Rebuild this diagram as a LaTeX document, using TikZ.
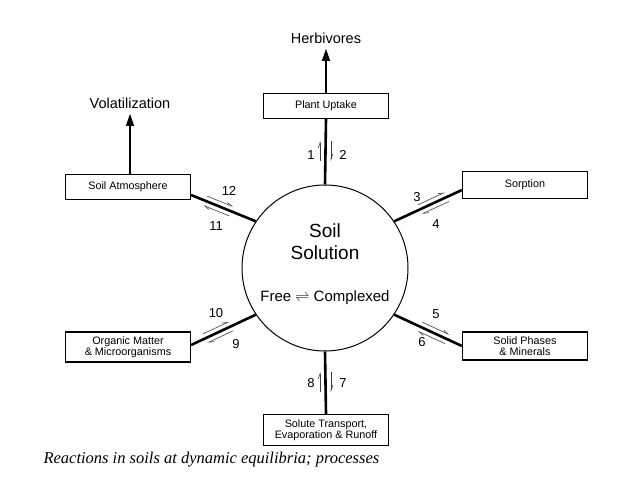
\documentclass[tikz,border=0pt]{standalone}
\usepackage{fontspec}
\setmainfont{Liberation Sans}
\newfontfamily\capfont{Liberation Serif}
\usetikzlibrary{arrows.meta,calc}
\begin{document}
\begin{tikzpicture}[x=1pt,y=-1pt,
 box/.style={draw,line width=1.2pt,minimum width=125pt,inner sep=1pt,font=\fontsize{10.8}{11.5}\selectfont,align=center},
 conn/.style={line width=2.6pt},
 up/.style={line width=1.4pt,-{Triangle[length=12pt,width=8pt]}},
 hp/.style={line width=0.6pt,black!75,-{Straight Barb[harpoon,length=5pt,width=3.5pt]}},
 num/.style={font=\fontsize{13}{14}\selectfont}]
\useasboundingbox (0,0) rectangle (638,478);
\node[draw,circle,line width=1pt,minimum size=166pt] (c) at (325,268) {};
\node[font=\fontsize{19}{22}\selectfont,align=center] (t) at (325,242) {Soil\\Solution};
\node[font=\fontsize{15}{16}\selectfont] (fc) at (325,298) {Free $\rightleftharpoons$ Complexed};
\node[box,minimum height=25pt] (pu) at (326,106) {Plant Uptake};
\node[box,minimum height=25pt] (sa) at (128,187) {Soil Atmosphere};
\node[box,minimum height=27pt] (so) at (525,185) {Sorption};
\node[box,minimum height=28pt] (sp) at (525,346) {Solid Phases\\ \& Minerals};
\node[box,minimum height=30pt] (om) at (128,347) {Organic Matter\\ \& Microorganisms};
\node[box,minimum height=31pt] (st) at (326,430) {Solute Transport,\\Evaporation \& Runoff};
\node[font=\fontsize{14.5}{15}\selectfont] (hb) at (326,38) {Herbivores};
\node[font=\fontsize{14.5}{15}\selectfont] (vo) at (130,103) {Volatilization};
\draw[up] (pu.north) -- ($(hb.south)+(0,2)$);
\draw[up] (130,174.5) -- ($(vo.south)+(0,2)$);
\draw[conn] (pu.south) -- (c.90);
\draw[conn] (st.north) -- (c.270);
\draw[conn] (sa.east |- 0,195) coordinate (a1) -- (c.146) coordinate (b1);
\draw[conn] (so.west |- 0,190) coordinate (a2) -- (c.34) coordinate (b2);
\draw[conn] (sp.west |- 0,346) coordinate (a3) -- (c.326) coordinate (b3);
\draw[conn] (om.east |- 0,345) coordinate (a4) -- (c.214) coordinate (b4);
% vertical harpoons
\draw[hp] (320,161) -- (320,141);
\draw[hp] (331,141) -- (331,161);
\node[num] (n1) at (311,155) {1};
\node[num] (n2) at (343,155) {2};
\draw[hp] (320,392) -- (320,372);
\draw[hp] (331,372) -- (331,392);
\node[num] (n8) at (311,383) {8};
\node[num] (n7) at (343,383) {7};
% slanted harpoons
\foreach \a/\b in {a1/b1, a2/b2, a3/b3, a4/b4}{
  \coordinate (p) at ($(\a)!0.22!(\b)$);
  \coordinate (q) at ($(\a)!0.62!(\b)$);
  \draw[hp] ($(p)!5pt!90:(q)$) -- ($(q)!5pt!-90:(p)$);
  \draw[hp] ($(q)!5pt!90:(p)$) -- ($(p)!5pt!-90:(q)$);
}
\node[num] (n12) at (229,191) {12};
\node[num] (n11) at (216,226) {11};
\node[num] (n3) at (417,197) {3};
\node[num] (n4) at (436,224) {4};
\node[num] (n5) at (436,314) {5};
\node[num] (n6) at (422,342) {6};
\node[num] (n10) at (216,313) {10};
\node[num] (n9) at (236,344) {9};
\node[font=\capfont\itshape\fontsize{16.5}{18}\selectfont,anchor=west] (cap) at (40,460) {Reactions in soils at dynamic equilibria; processes};
\end{tikzpicture}
\end{document}
